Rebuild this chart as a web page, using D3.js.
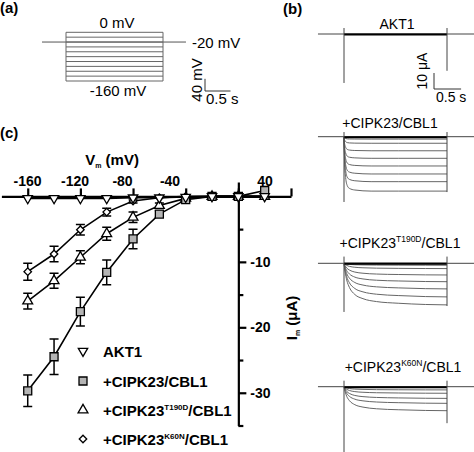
<!DOCTYPE html>
<html>
<head>
<meta charset="utf-8">
<script src="https://cdn.jsdelivr.net/npm/d3@7"></script>
<style>
body { margin: 0; background: #fff; }
text { font-family: "Liberation Sans", Arial, sans-serif; fill: #000; }
</style>
</head>
<body>
<script>
// ---- (c) I-V data ----
var voltages = [-160, -140, -120, -100, -80, -60, -40, -20, 0, 20];
var akt1     = [-0.3, -0.3, -0.3, -0.3, -0.2, -0.2, -0.1, 0, 0, 0];
var akt1Err  = [0, 0, 0, 0, 0, 0, 0, 0, 0, 0];
var cbl1     = [-29.7, -24.5, -17.6, -11.6, -6.5, -2.7, -0.5, 0, 0, 0.9];
var cbl1Err  = [2.4, 2.7, 2.2, 1.9, 1.5, 0.5, 0.2, 0, 0, 0];
var t190d    = [-16.0, -12.9, -9.3, -5.7, -3.2, -1.4, -0.3, 0, 0, 0];
var t190dErr = [1.2, 1.15, 1.0, 1.0, 0.8, 0.4, 0.2, 0, 0, 0];
var k60n     = [-11.5, -8.8, -5.1, -2.4, -0.7, -0.2, 0, 0, 0, 0];
var k60nErr  = [1.3, 1.2, 0.8, 0.6, 0.3, 0, 0, 0, 0, 0];

var xTicks = [-160, -120, -80, -40, 0, 40];
var xTickLabels = [-160, -120, -80, -40, 40];
var yTicks = [-10, -20, -30];
var yMinorTicks = [-5, -15, -25, -35];

// ---- (a) voltage protocol ----
var stepLevels = [0, -16, -32, -48, -64, -80, -96, -112, -128, -144, -160];
var holdingLevel = -32;
var pulseDur = 1.9; // s

// ---- (b) current traces: steady-state amplitudes per sweep (uA) ----
var akt1Sweeps  = [0];
var cbl1Sweeps  = [0, 0, 0.5, 1.5, 4.1, 8.8, 13.5, 18.3, 23.3, 28.1, 34];
var t190dSweeps = [0, 0, 0.4, 1.2, 3.3, 7.3, 11.5, 16, 21, 26];
var k60nSweeps  = [0, 0, 0, 0.5, 2, 4.1, 7.3, 10.4, 15];
// activation time course (fraction of steady state)
var fastT = [0, 0.01, 0.03, 0.06, 0.1, 0.2, 0.5, 1.0, 1.9];
var fastF = [0, 0.45, 0.75, 0.9, 0.95, 0.98, 1, 1, 1];
var slowT = [0, 0.02, 0.05, 0.1, 0.2, 0.35, 0.6, 1.0, 1.5, 1.9];
var slowF = [0, 0.2, 0.4, 0.58, 0.75, 0.85, 0.92, 0.96, 0.99, 1];
// capacitive transients [top, left bottom, right bottom] (uA)
var akt1Trans  = [3.75, -30.6, -23];
var cbl1Trans  = [2.9, -40.8, -34.6];
var t190dTrans = [4.2, -30.4, -26.7];
var k60nTrans  = [3.75, -41, -22.8];

var svg = d3.select("body").append("svg")
  .attr("width", 474).attr("height", 452);

// ================= (a) =================
svg.append("text").attr("x", 0).attr("y", 13)
  .style("font-size", "15px").style("font-weight", "bold").text("(a)");

var pt = d3.scaleLinear().domain([0, pulseDur]).range([66, 163]);
var pv = d3.scaleLinear().domain([0, -160]).range([32.3, 81]);

svg.append("line")
  .attr("x1", pt(-0.47)).attr("x2", pt(2.35))
  .attr("y1", pv(holdingLevel)).attr("y2", pv(holdingLevel))
  .attr("stroke", "#555").attr("stroke-width", 1);

svg.selectAll(".step").data(stepLevels).enter().append("line")
  .attr("class", "step")
  .attr("x1", pt(0)).attr("x2", pt(pulseDur))
  .attr("y1", d => pv(d)).attr("y2", d => pv(d))
  .attr("stroke", "#666").attr("stroke-width", 1);

svg.append("line").attr("x1", pt(0)).attr("x2", pt(0))
  .attr("y1", pv(0)).attr("y2", pv(-160)).attr("stroke", "#666");
svg.append("line").attr("x1", pt(pulseDur)).attr("x2", pt(pulseDur))
  .attr("y1", pv(0)).attr("y2", pv(-160)).attr("stroke", "#666");

svg.append("text").attr("x", 117).attr("y", 28).attr("text-anchor", "middle")
  .style("font-size", "15px").text("0 mV");
svg.append("text").attr("x", 192).attr("y", 48)
  .style("font-size", "15px").text("-20 mV");
svg.append("text").attr("x", 118).attr("y", 96).attr("text-anchor", "middle")
  .style("font-size", "15px").text("-160 mV");

// scale bar 40 mV / 0.5 s
var sbx = 205, sby = 91;
svg.append("path")
  .attr("d", "M" + sbx + "," + (sby - (pv(-40) - pv(0))) + "V" + sby + "H" + (sbx + pt(0.5) - pt(0)))
  .attr("fill", "none").attr("stroke", "#333").attr("stroke-width", 1);
svg.append("text").attr("transform", "translate(202,80) rotate(-90)")
  .attr("text-anchor", "middle").style("font-size", "15px").text("40 mV");
svg.append("text").attr("x", 206).attr("y", 104)
  .style("font-size", "15px").text("0.5 s");

// ================= (b) =================
svg.append("text").attr("x", 283).attr("y", 14)
  .style("font-size", "15px").style("font-weight", "bold").text("(b)");

var tt = d3.scaleLinear().domain([0, pulseDur]).range([344, 447]);
var ti = d3.scaleLinear().domain([0, -10]).range([0, 16]);

var traceLine = d3.line().curve(d3.curveMonotoneX);

function drawTraces(zeroY, sweeps, profT, profF, trans) {
  var g = svg.append("g").attr("transform", "translate(0," + zeroY + ")");
  g.append("line").attr("x1", tt(-0.48)).attr("x2", 474)
    .attr("y1", 0).attr("y2", 0).attr("stroke", "#444").attr("stroke-width", 1);
  g.selectAll(".tr").data(sweeps).enter().append("path")
    .attr("class", "tr")
    .attr("d", a => traceLine(profT.map((t, i) => [tt(t), ti(-a * profF[i])])))
    .attr("fill", "none").attr("stroke", "#666").attr("stroke-width", 1);
  g.append("line").attr("x1", tt(0)).attr("x2", tt(pulseDur))
    .attr("y1", 0.5).attr("y2", 0.5).attr("stroke", "#000").attr("stroke-width", 2);
  g.append("line").attr("x1", tt(0)).attr("x2", tt(0))
    .attr("y1", ti(trans[0])).attr("y2", ti(trans[1])).attr("stroke", "#444");
  g.append("line").attr("x1", tt(pulseDur)).attr("x2", tt(pulseDur))
    .attr("y1", ti(trans[0])).attr("y2", ti(trans[2])).attr("stroke", "#444");
}

function traceLabel(x, y, main, sup) {
  var t = svg.append("text").attr("x", x).attr("y", y).attr("text-anchor", "middle")
    .style("font-size", "14px");
  t.append("tspan").text(main);
  if (sup) {
    t.append("tspan").attr("dy", -6).style("font-size", "8.5px").text(sup);
    t.append("tspan").attr("dy", 6).text("/CBL1");
  }
}

drawTraces(34, akt1Sweeps, fastT, fastF, akt1Trans);
drawTraces(136.7, cbl1Sweeps, fastT, fastF, cbl1Trans);
drawTraces(263.3, t190dSweeps, slowT, slowF, t190dTrans);
drawTraces(386.7, k60nSweeps, slowT, slowF, k60nTrans);

traceLabel(397, 29, "AKT1");
traceLabel(390, 128, "+CIPK23/CBL1");
traceLabel(400, 248, "+CIPK23", "T190D");
traceLabel(403, 372, "+CIPK23", "K60N");

// scale bar 10 uA / 0.5 s
svg.append("path")
  .attr("d", "M434," + (89 - ti(-10)) + "V89H" + (434 + tt(0.5) - tt(0)))
  .attr("fill", "none").attr("stroke", "#333").attr("stroke-width", 1);
svg.append("text").attr("transform", "translate(427,71) rotate(-90)")
  .attr("text-anchor", "middle").style("font-size", "14px").text("10 μA");
svg.append("text").attr("x", 436).attr("y", 102)
  .style("font-size", "14px").text("0.5 s");

// ================= (c) =================
svg.append("text").attr("x", 0).attr("y", 138)
  .style("font-size", "15px").style("font-weight", "bold").text("(c)");

var x = d3.scaleLinear().domain([-180, 40]).range([1.4, 291]);
var xLab = d3.scaleLinear().domain([-160, 40]).range([27.5, 265]);
var y = d3.scaleLinear().domain([2.2, -35]).range([182, 425.5]);

var xAxis = svg.append("g").attr("transform", "translate(0," + y(0) + ")")
  .call(d3.axisTop(x).tickValues(xTicks).tickSize(8).tickSizeOuter(0).tickFormat(""));
var yAxis = svg.append("g").attr("transform", "translate(" + x(0) + ",0)")
  .call(d3.axisRight(y).tickValues(yTicks).tickSize(8).tickSizeOuter(0).tickPadding(4)
    .tickFormat(d => String(d)));
var yMinor = svg.append("g").attr("transform", "translate(" + x(0) + ",0)")
  .call(d3.axisRight(y).tickValues(yMinorTicks).tickSize(5).tickSizeOuter(0).tickFormat(""));
yMinor.select(".domain").remove();

[xAxis, yAxis, yMinor].forEach(function(g) {
  g.selectAll("path, line").attr("stroke", "#000").attr("stroke-width", 2.2);
  g.selectAll("text").style("font-size", "14px").style("font-weight", "bold")
    .style("font-family", "'Liberation Sans', Arial, sans-serif");
});

svg.selectAll(".xlab").data(xTickLabels).enter().append("text")
  .attr("class", "xlab")
  .attr("x", d => xLab(d)).attr("y", 186).attr("text-anchor", "middle")
  .style("font-size", "14px").style("font-weight", "bold")
  .text(d => String(d));

var vt = svg.append("text").attr("x", 112).attr("y", 165).attr("text-anchor", "middle")
  .style("font-size", "15px").style("font-weight", "bold");
vt.append("tspan").text("V");
vt.append("tspan").attr("dy", 3).style("font-size", "7px").text("m");
vt.append("tspan").attr("dy", -3).text(" (mV)");

var it = svg.append("text").attr("transform", "translate(297,318) rotate(-90)")
  .attr("text-anchor", "middle").style("font-size", "15px").style("font-weight", "bold");
it.append("tspan").text("I");
it.append("tspan").attr("dy", 3).style("font-size", "7px").text("m");
it.append("tspan").attr("dy", -3).text(" (μA)");

var series = [
  { name: "AKT1", v: akt1, e: akt1Err, sym: d3.symbolTriangle, size: 38, rot: 180, fill: "#fff" },
  { name: "+CIPK23/CBL1", v: cbl1, e: cbl1Err, sym: d3.symbolSquare, size: 64, rot: 0, fill: "#b4b4b4" },
  { name: "+CIPK23", sup: "T190D", v: t190d, e: t190dErr, sym: d3.symbolTriangle, size: 42, rot: 0, fill: "#fff" },
  { name: "+CIPK23", sup: "K60N", v: k60n, e: k60nErr, sym: d3.symbolSquare, size: 28, rot: 45, fill: "#fff" }
];

var line = d3.line().x((d, i) => x(voltages[i])).y(d => y(d));

// lines first, then bars, then markers (AKT1 on top)
series.slice().reverse().forEach(function(s) {
  svg.append("path").attr("d", line(s.v))
    .attr("fill", "none").attr("stroke", "#000").attr("stroke-width", 1.6);
});
series.slice().reverse().forEach(function(s) {
  var eb = svg.append("g");
  s.v.forEach(function(v, i) {
    if (!s.e[i]) return;
    var cx = x(voltages[i]), y1 = y(v - s.e[i]), y2 = y(v + s.e[i]);
    eb.append("path")
      .attr("d", "M" + cx + "," + y1 + "V" + y2 + "M" + (cx - 4.5) + "," + y1 + "H" + (cx + 4.5) +
        "M" + (cx - 4.5) + "," + y2 + "H" + (cx + 4.5))
      .attr("fill", "none").attr("stroke", "#000").attr("stroke-width", 1.5);
  });
});
series.slice().reverse().forEach(function(s) {
  svg.selectAll(null).data(s.v).enter().append("path")
    .attr("d", d3.symbol().type(s.sym).size(s.size))
    .attr("transform", (d, i) => "translate(" + x(voltages[i]) + "," + y(d) + ") rotate(" + s.rot + ")")
    .attr("fill", s.fill).attr("stroke", "#000").attr("stroke-width", 1.3);
});

// legend
var legY = [351, 381, 410, 439];
series.forEach(function(s, k) {
  svg.append("path")
    .attr("d", d3.symbol().type(s.sym).size(s.size))
    .attr("transform", "translate(83," + legY[k] + ") rotate(" + s.rot + ")")
    .attr("fill", s.fill).attr("stroke", "#000").attr("stroke-width", 1.3);
  var t = svg.append("text").attr("x", 103).attr("y", legY[k] + 6)
    .style("font-size", "15px").style("font-weight", "bold");
  t.append("tspan").text(s.name);
  if (s.sup) {
    t.append("tspan").attr("dy", -6).style("font-size", "8px").text(s.sup);
    t.append("tspan").attr("dy", 6).text("/CBL1");
  }
});
</script>
</body>
</html>
